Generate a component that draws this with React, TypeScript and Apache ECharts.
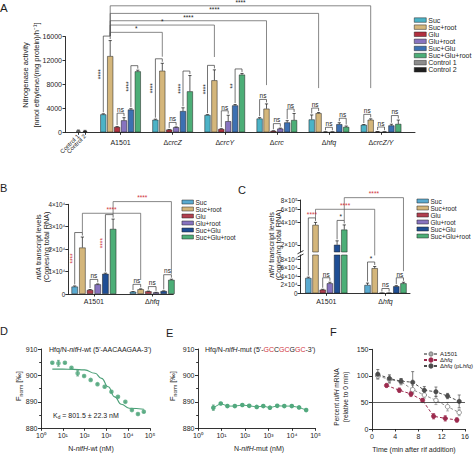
import React, { useEffect, useRef } from 'react';
import * as echarts from 'echarts';

const FONT = "'Liberation Sans', Arial, Helvetica, sans-serif";
const INK = '#1c1c1c';
const RED = '#d0343c';

// ---------------- shared ----------------
const TREATMENTS = ['Suc', 'Suc+root', 'Glu', 'Glu+root', 'Suc+Glu', 'Suc+Glu+root'];
const CONTROLS = ['Control 1', 'Control 2'];
const COLORS_A = ['#4cb3c7', '#d4b67b', '#b2303f', '#8773bf', '#3c70b2', '#4cae77'];
const COLORS_CTRL = ['#8d8d8d', '#1f1f1f'];
const COLORS_BC = ['#5aaad0', '#d4b67b', '#b13f4f', '#8773bf', '#1f4e94', '#4cae77'];

// ---------------- panel A: nitrogenase activity ----------------
const A_STRAINS = ['A1501', 'ΔcrcZ', 'ΔcrcY', 'Δcrc', 'Δhfq', 'ΔcrcZ/Y'];
const A_SUC = [3000, 2100, 2900, 2300, 2150, 1250];
const A_SUC_ROOT = [12750, 10300, 8700, 3950, 3200, 2100];
const A_GLU = [900, 450, 550, 230, 50, 100];
const A_GLU_ROOT = [2000, 850, 1850, 620, 50, 60];
const A_SUC_GLU = [3800, 3550, 4500, 1650, 1350, 1150];
const A_SUC_GLU_ROOT = [10200, 6850, 9650, 2050, 900, 1400];
const A_SUC_SD = [100, 100, 50, 150, 750, 50];
const A_SUC_ROOT_SD = [2600, 1250, 1750, 800, 100, 150];
const A_GLU_SD = [50, 30, 50, 30, 30, 30];
const A_GLU_ROOT_SD = [450, 50, 1000, 80, 30, 30];
const A_SUC_GLU_SD = [150, 550, 150, 300, 250, 200];
const A_SUC_GLU_ROOT_SD = [200, 2650, 200, 1100, 150, 650];
const A_CONTROL = [300, 250];
const A_CONTROL_SD = [80, 80];
const A_Y_TICKS = { min: 0, max: 16000, step: 4000 };
const A_PAIR_LABELS = [
  ['****', 'ns', '****'],
  ['****', 'ns', '****'],
  ['****', 'ns', '**'],
  ['ns', 'ns', 'ns'],
  ['ns', 'ns', 'ns'],
  ['ns', 'ns', 'ns'],
];
const A_CROSS_TARGET = [1, 2, 3, 4, 5];
const A_CROSS_LABELS = ['*', '*', '****', '****', '****'];
const A_CROSS_LEVEL = [16730, 17950, 18670, 19900, 21170];
const A_CROSS_END = [12650, 12600, 7900, 7400, 7400];

// ---------------- panel B: nifA transcripts ----------------
const B_STRAINS = ['A1501', 'Δhfq'];
const B_SUC = [3300, 1000];
const B_SUC_ROOT = [20700, 2100];
const B_GLU = [1800, 1200];
const B_GLU_ROOT = [4300, 700];
const B_SUC_GLU = [9000, 1300];
const B_SUC_GLU_ROOT = [29000, 6300];
const B_SUC_SD = [300, 100];
const B_SUC_ROOT_SD = [4700, 200];
const B_GLU_SD = [200, 100];
const B_GLU_ROOT_SD = [200, 50];
const B_SUC_GLU_SD = [300, 100];
const B_SUC_GLU_ROOT_SD = [4400, 300];
const B_Y_TICKS = { min: 0, max: 40000, step: 10000 };
const B_PAIR_LABELS = [['****', 'ns', '****'], ['ns', 'ns', 'ns']];
const B_CROSS_SERIES = [1, 5];
const B_CROSS_LABELS = ['****', '****'];
const B_CROSS_LEVEL = [36000, 41200];
const B_CROSS_END = [6250, 9000];

// ---------------- panel C: nifH transcripts (broken axis) ----------------
const C_STRAINS = ['A1501', 'Δhfq'];
const C_SUC = [36000, 19500];
const C_SUC_ROOT = [370000, 59000];
const C_GLU = [8500, 500];
const C_GLU_ROOT = [23500, 500];
const C_SUC_GLU = [200000, 16500];
const C_SUC_GLU_ROOT = [320000, 23500];
const C_SUC_SD = [2000, 4500];
const C_SUC_ROOT_SD = [30000, 4000];
const C_GLU_SD = [1000, 200];
const C_GLU_ROOT_SD = [2500, 200];
const C_SUC_GLU_SD = [26000, 1500];
const C_SUC_GLU_ROOT_SD = [50000, 2500];
const C_UPPER_MIN = 160000;
const C_UPPER_MAX = 800000;
const C_UPPER_TICKS = [200000, 400000, 600000, 800000];
const C_LOWER_MAX = 90000;
const C_LOWER_TICKS = [0, 20000, 40000, 60000, 80000];
const C_PAIR_LABELS = [['****', 'ns', '*'], ['*', 'ns', 'ns']];
const C_CROSS_SERIES = [1, 5];
const C_CROSS_LABELS = ['****', '****'];
const C_CROSS_LEVEL = [600000, 860000];
const C_CROSS_END = [89000, 52000];

// ---------------- panel D: wt binding ----------------
const D_CONC = [3.3, 6.3, 12.5, 25, 48, 95, 190, 390, 830, 1700, 3400, 7400, 14800, 28000, 52000];
const D_FNORM = [904.8, 904.6, 904.8, 902.9, 900.8, 899.8, 898.3, 896.7, 895.7, 893.8, 891.9, 890.0, 886.9, 885.4, 886.3];
const D_SD = [0.3, 1.1, 0.3, 0.3, 1.0, 0.3, 0.3, 0.3, 0.3, 0.3, 0.3, 0.3, 0.3, 0.3, 0.3];
const D_FIT_CONC = [3.3, 10, 30, 100, 300, 600, 1200, 2400, 4800, 11000, 52000];
const D_FIT = [902.4, 902.4, 902.3, 902.1, 900.8, 898.9, 895.7, 891.9, 889.1, 887.6, 887.2];
const DE_Y_TICKS = { min: 880, max: 910, step: 10 };

// ---------------- panel E: mut binding ----------------
const E_CONC = [4.5, 9.3, 17.8, 37, 77, 151, 316, 600, 1150, 2350, 4700, 9800, 20000, 40000];
const E_FNORM = [887.8, 889.4, 888.4, 888.4, 888.8, 888.5, 888.1, 888.4, 887.8, 888.5, 888.4, 888.4, 887.9, 886.9];
const E_SD = [1.0, 0.3, 0.3, 0.3, 0.3, 0.3, 0.3, 0.3, 0.3, 0.3, 0.3, 0.3, 0.3, 0.3];

// ---------------- panel F: mRNA decay ----------------
const F_TIME = [1, 3, 5, 7, 9, 11, 13, 15];
const F_A1501 = [100, 93, 89, 74, 64, 54, 42, 31];
const F_A1501_SD = [5, 7, 6, 8, 6, 8, 8, 6];
const F_HFQ_TIME = [2.5, 4.7, 6.7, 8.7, 10.6, 12.6, 14.6];
const F_HFQ = [82, 73, 66, 54, 24, 20, 17];
const F_HFQ_SD = [3, 4, 5, 3, 5, 5, 4];
const F_PLHFQ = [103, 95, 90, 88, 73, 70, 62, 52];
const F_PLHFQ_SD = [9, 7, 5, 20, 7, 9, 5, 12];
const F_SERIES = ['A1501', 'Δhfq', 'Δhfq (pLhfq)'];
const F_COLORS = ['#8f8f8f', '#9c2b4e', '#4d4d4d'];

// ---------------- helpers ----------------
const A_MEANS = [A_SUC, A_SUC_ROOT, A_GLU, A_GLU_ROOT, A_SUC_GLU, A_SUC_GLU_ROOT];
const A_SDS = [A_SUC_SD, A_SUC_ROOT_SD, A_GLU_SD, A_GLU_ROOT_SD, A_SUC_GLU_SD, A_SUC_GLU_ROOT_SD];
const B_MEANS = [B_SUC, B_SUC_ROOT, B_GLU, B_GLU_ROOT, B_SUC_GLU, B_SUC_GLU_ROOT];
const B_SDS = [B_SUC_SD, B_SUC_ROOT_SD, B_GLU_SD, B_GLU_ROOT_SD, B_SUC_GLU_SD, B_SUC_GLU_ROOT_SD];
const C_MEANS = [C_SUC, C_SUC_ROOT, C_GLU, C_GLU_ROOT, C_SUC_GLU, C_SUC_GLU_ROOT];
const C_SDS = [C_SUC_SD, C_SUC_ROOT_SD, C_GLU_SD, C_GLU_ROOT_SD, C_SUC_GLU_SD, C_SUC_GLU_ROOT_SD];

const A_BAR_W = 6, A_GAP = 0.15;
const B_BAR_W = 6.4, B_GAP = 0.2;
const C_BAR_W = 6.2, C_GAP = 0.16;

const SUP: Record<string, string> = { '0': '⁰', '1': '¹', '2': '²', '3': '³', '4': '⁴', '5': '⁵' };
const logLabel = (v: number) => '10' + SUP[String(Math.round(Math.log10(v)))];

const AXL = { color: INK, width: 0.9 };
const G = (left: number, top: number, width: number, height: number) => ({
  left, top, width, height, containLabel: false, outerBoundsMode: 'none',
});

const strainFmt = (v: string) => (v.startsWith('Δ') ? `{n|Δ}{i|${v.slice(1)}}` : `{n|${v}}`);
const labelRich = (fs: number) => ({
  n: { fontSize: fs, fontFamily: FONT, color: INK },
  i: { fontSize: fs, fontFamily: FONT, color: INK, fontStyle: 'italic' },
});

function frameX(gi: number, showLine = true) {
  return {
    gridIndex: gi, type: 'value', min: 0, max: 1,
    axisLine: { show: showLine, onZero: false, lineStyle: AXL },
    axisTick: { show: false }, axisLabel: { show: false }, splitLine: { show: false },
  };
}
function hiddenY(gi: number, min: number, max: number, type = 'value') {
  return { gridIndex: gi, type, min, max, show: false, logBase: 10 };
}
function catX(gi: number, data: string[], margin: number, extra: any = {}) {
  return {
    gridIndex: gi, type: 'category', data,
    axisLine: { show: false },
    axisTick: { show: true, alignWithLabel: true, length: 2.5, lineStyle: AXL },
    axisLabel: {
      interval: 0, margin, fontSize: 7, color: INK, fontFamily: FONT,
      formatter: strainFmt, rich: labelRich(extra.fontSize || 7), ...extra,
    },
    splitLine: { show: false },
  };
}
function valueY(gi: number, o: any) {
  return {
    gridIndex: gi, type: 'value',
    axisLine: { show: true, lineStyle: AXL },
    axisTick: { show: true, length: 3, lineStyle: AXL },
    splitLine: { show: false },
    ...o,
    axisLabel: {
      fontSize: 7, color: INK, fontFamily: FONT, margin: 3.5,
      formatter: (v: number) => String(v),
      ...(o.axisLabel || {}),
    },
  };
}

function barErrSeries(xi: number, yi: number, items: number[][], nBars: number, pitch: number, cap: number) {
  return {
    type: 'custom', xAxisIndex: xi, yAxisIndex: yi, silent: true, z: 5, clip: false,
    encode: { x: 0, y: [2, 3] }, data: items,
    renderItem: (_p: any, api: any) => {
      const g = api.value(0);
      const s = api.value(1);
      const a = api.coord([g, api.value(2)]);
      const b = api.coord([g, api.value(3)]);
      const x = a[0] + (s - (nBars - 1) / 2) * pitch;
      const st = { stroke: '#111', lineWidth: 0.7 };
      return {
        type: 'group',
        children: [
          { type: 'line', shape: { x1: x, y1: a[1], x2: x, y2: b[1] }, style: st },
          { type: 'line', shape: { x1: x - cap, y1: b[1], x2: x + cap, y2: b[1] }, style: st },
        ],
      };
    },
  };
}
function pointErrSeries(xi: number, yi: number, xs: number[], ys: number[], sds: number[], color: string, cap: number) {
  return {
    type: 'custom', xAxisIndex: xi, yAxisIndex: yi, silent: true, z: 3, clip: false,
    encode: { x: 0, y: [1] }, data: xs.map((x, i) => [x, ys[i], sds[i]]),
    renderItem: (_p: any, api: any) => {
      const x = api.value(0), y = api.value(1), e = api.value(2);
      const lo = api.coord([x, y - e]);
      const hi = api.coord([x, y + e]);
      const st = { stroke: color, lineWidth: 0.7 };
      return {
        type: 'group',
        children: [
          { type: 'line', shape: { x1: lo[0], y1: lo[1], x2: hi[0], y2: hi[1] }, style: st },
          { type: 'line', shape: { x1: hi[0] - cap, y1: hi[1], x2: hi[0] + cap, y2: hi[1] }, style: st },
          { type: 'line', shape: { x1: lo[0] - cap, y1: lo[1], x2: lo[0] + cap, y2: lo[1] }, style: st },
        ],
      };
    },
  };
}

function barErrItems(means: number[][], sds: number[][]) {
  const out: number[][] = [];
  means.forEach((arr, s) => arr.forEach((m, g) => out.push([g, s, m, m + sds[s][g]])));
  return out;
}

function buildOption() {
  const grid = [
    G(65.5, 36.7, 349.5, 95.6), // 0 A frame
    G(75, 36.7, 13.4, 95.6), // 1 A controls
    G(94.5, 36.7, 312.6, 95.6), // 2 A bars
    G(68.3, 204.3, 105, 89.7), // 3 B frame
    G(64.75, 204.3, 116.6, 89.7), // 4 B bars
    G(300.5, 200, 109.5, 52), // 5 C upper frame
    G(300.5, 255, 109.5, 38.3), // 6 C lower frame
    G(296.7, 200, 118.4, 52), // 7 C upper bars
    G(296.7, 255, 118.4, 38.3), // 8 C lower bars
    G(41, 349, 109, 79.3), // 9 D
    G(198, 349, 117.5, 79.3), // 10 E
    G(372, 349.3, 93, 79.7), // 11 F
  ];

  const logX = (gi: number) => ({
    gridIndex: gi, type: 'log', logBase: 10, min: 1, max: 100000,
    axisLine: { show: true, onZero: false, lineStyle: AXL },
    axisTick: { show: true, length: 2.5, lineStyle: AXL },
    axisLabel: { fontSize: 7, color: INK, fontFamily: FONT, margin: 4, formatter: logLabel },
    splitLine: { show: false }, minorSplitLine: { show: false },
  });
  const deY = (gi: number) =>
    valueY(gi, {
      min: DE_Y_TICKS.min, max: DE_Y_TICKS.max, interval: DE_Y_TICKS.step,
      minorTick: { show: true, splitNumber: 2, length: 1.8, lineStyle: AXL },
      axisTick: { show: true, length: 3, lineStyle: AXL },
    });
  const smallLab = { fontSize: 6.3, margin: 3 };

  const xAxis = [
    frameX(0),
    catX(1, CONTROLS, 3, { rotate: 45, fontSize: 6 }),
    catX(2, A_STRAINS, 7),
    frameX(3),
    catX(4, B_STRAINS, 4),
    frameX(5, false),
    frameX(6),
    { gridIndex: 7, type: 'category', data: C_STRAINS, show: false },
    catX(8, C_STRAINS, 4.5),
    logX(9),
    logX(10),
    {
      gridIndex: 11, type: 'value', min: 0, max: 16, interval: 4,
      axisLine: { show: true, onZero: false, lineStyle: AXL },
      axisTick: { show: true, length: 2.5, lineStyle: AXL },
      axisLabel: { fontSize: 7, color: INK, fontFamily: FONT, margin: 4 },
      splitLine: { show: false },
    },
  ];

  const yAxis = [
    valueY(0, { min: A_Y_TICKS.min, max: A_Y_TICKS.max, interval: A_Y_TICKS.step }),
    hiddenY(1, A_Y_TICKS.min, A_Y_TICKS.max),
    hiddenY(2, A_Y_TICKS.min, A_Y_TICKS.max),
    valueY(3, {
      min: B_Y_TICKS.min, max: B_Y_TICKS.max, interval: B_Y_TICKS.step,
      axisLabel: { ...smallLab, formatter: (v: number) => (v === 0 ? '0' : `${v / 10000}×10⁴`) },
    }),
    hiddenY(4, B_Y_TICKS.min, B_Y_TICKS.max),
    valueY(5, {
      type: 'log', logBase: 10, min: C_UPPER_MIN, max: C_UPPER_MAX,
      axisTick: { show: true, length: 3, lineStyle: AXL, customValues: C_UPPER_TICKS },
      axisLabel: { ...smallLab, customValues: C_UPPER_TICKS, formatter: (v: number) => `${Math.round(v / 100000)}×10⁵` },
    }),
    valueY(6, {
      min: 0, max: C_LOWER_MAX,
      axisTick: { show: true, length: 3, lineStyle: AXL, customValues: C_LOWER_TICKS },
      axisLabel: { ...smallLab, customValues: C_LOWER_TICKS, formatter: (v: number) => (v === 0 ? '0' : `${v / 10000}×10⁴`) },
    }),
    hiddenY(7, C_UPPER_MIN, C_UPPER_MAX, 'log'),
    hiddenY(8, 0, C_LOWER_MAX),
    deY(9),
    deY(10),
    valueY(11, { min: 0, max: 150, interval: 50 }),
  ];

  const barStyle = (c: string) => ({ color: c, borderColor: '#1a1a1a', borderWidth: 0.5 });

  const series: any[] = [];
  // A
  TREATMENTS.forEach((name, s) =>
    series.push({
      type: 'bar', name, xAxisIndex: 2, yAxisIndex: 2, data: A_MEANS[s],
      barWidth: A_BAR_W, barGap: `${A_GAP * 100}%`, itemStyle: barStyle(COLORS_A[s]), z: 2,
    })
  );
  CONTROLS.forEach((name, s) =>
    series.push({
      type: 'bar', name, xAxisIndex: 1, yAxisIndex: 1,
      data: CONTROLS.map((_c, j) => (j === s ? A_CONTROL[s] : '-')),
      barWidth: 4, barGap: '-100%', itemStyle: barStyle(COLORS_CTRL[s]), z: 2,
    })
  );
  series.push(barErrSeries(2, 2, barErrItems(A_MEANS, A_SDS), 6, A_BAR_W * (1 + A_GAP), 1.6));
  series.push(
    barErrSeries(1, 1, CONTROLS.map((_c, s) => [s, 0, A_CONTROL[s], A_CONTROL[s] + A_CONTROL_SD[s]]), 1, 0, 1.4)
  );
  // B
  TREATMENTS.forEach((name, s) =>
    series.push({
      type: 'bar', name, xAxisIndex: 4, yAxisIndex: 4, data: B_MEANS[s],
      barWidth: B_BAR_W, barGap: `${B_GAP * 100}%`, itemStyle: barStyle(COLORS_BC[s]), z: 2,
    })
  );
  series.push(barErrSeries(4, 4, barErrItems(B_MEANS, B_SDS), 6, B_BAR_W * (1 + B_GAP), 1.6));
  // C lower + upper
  TREATMENTS.forEach((name, s) => {
    series.push({
      type: 'bar', name, xAxisIndex: 8, yAxisIndex: 8, data: C_MEANS[s],
      barWidth: C_BAR_W, barGap: `${C_GAP * 100}%`, itemStyle: barStyle(COLORS_BC[s]), z: 2, clip: true,
    });
    series.push({
      type: 'bar', name, xAxisIndex: 7, yAxisIndex: 7,
      data: C_MEANS[s].map((v) => (v >= C_UPPER_MIN ? v : '-')),
      barWidth: C_BAR_W, barGap: `${C_GAP * 100}%`, itemStyle: barStyle(COLORS_BC[s]), z: 2, clip: true,
    });
  });
  const cItems = barErrItems(C_MEANS, C_SDS);
  series.push(barErrSeries(8, 8, cItems.filter((d) => d[2] < C_UPPER_MIN), 6, C_BAR_W * (1 + C_GAP), 1.6));
  series.push(barErrSeries(7, 7, cItems.filter((d) => d[2] >= C_UPPER_MIN), 6, C_BAR_W * (1 + C_GAP), 1.6));
  // D
  const GREEN = '#52a97e';
  series.push({
    type: 'line', xAxisIndex: 9, yAxisIndex: 9, data: D_FIT_CONC.map((x, i) => [x, D_FIT[i]]),
    smooth: 0.5, smoothMonotone: 'x', showSymbol: false, silent: true,
    lineStyle: { color: '#4b9f77', width: 1.1 }, z: 2,
  });
  series.push(pointErrSeries(9, 9, D_CONC, D_FNORM, D_SD, '#3f8f68', 1.4));
  series.push({
    type: 'scatter', xAxisIndex: 9, yAxisIndex: 9, data: D_CONC.map((x, i) => [x, D_FNORM[i]]),
    symbolSize: 4.6, itemStyle: { color: GREEN }, z: 4, silent: true,
  });
  // E
  series.push(pointErrSeries(10, 10, E_CONC, E_FNORM, E_SD, '#3f8f68', 1.4));
  series.push({
    type: 'line', xAxisIndex: 10, yAxisIndex: 10, data: E_CONC.map((x, i) => [x, E_FNORM[i]]),
    symbol: 'circle', symbolSize: 4.6, silent: true,
    lineStyle: { color: GREEN, width: 1 }, itemStyle: { color: GREEN }, z: 4,
  });
  // F
  const fData = [
    F_TIME.map((t, i) => [t, F_A1501[i]]),
    F_HFQ_TIME.map((t, i) => [t, F_HFQ[i]]),
    F_TIME.map((t, i) => [t, F_PLHFQ[i]]),
  ];
  const fErr = [
    [F_TIME, F_A1501, F_A1501_SD],
    [F_HFQ_TIME, F_HFQ, F_HFQ_SD],
    [F_TIME, F_PLHFQ, F_PLHFQ_SD],
  ];
  F_SERIES.forEach((name, k) => {
    series.push(pointErrSeries(11, 11, fErr[k][0], fErr[k][1], fErr[k][2], F_COLORS[k], 1.5));
    series.push({
      type: 'line', name, xAxisIndex: 11, yAxisIndex: 11, data: fData[k],
      symbol: 'circle', symbolSize: 4.5, silent: true, z: 4,
      lineStyle: { color: F_COLORS[k], width: 1, type: [3, 2] },
      itemStyle: k === 0
        ? { color: '#ffffff', borderColor: F_COLORS[k], borderWidth: 1 }
        : { color: F_COLORS[k], borderColor: F_COLORS[k], borderWidth: 0.5 },
      markLine: k === 0
        ? {
            silent: true, symbol: 'none', label: { show: false },
            lineStyle: { color: '#333', width: 0.8, type: 'solid' },
            data: [{ yAxis: 50 }],
          }
        : undefined,
    });
  });

  const legendBase = {
    orient: 'vertical', icon: 'rect', selectedMode: false, itemGap: 0,
    itemStyle: { borderColor: '#222', borderWidth: 0.5 },
  };
  const legend = [
    {
      ...legendBase, left: 409, top: 11.5, itemWidth: 12, itemHeight: 4.5,
      textStyle: { fontSize: 7, lineHeight: 7.1, color: INK, fontFamily: FONT, padding: [0, 0, 0, -3] },
      data: [
        ...TREATMENTS.map((name, i) => ({ name, itemStyle: { color: COLORS_A[i] } })),
        ...CONTROLS.map((name, i) => ({ name, itemStyle: { color: COLORS_CTRL[i] } })),
      ],
    },
    {
      ...legendBase, left: 176.7, top: 193.5, itemWidth: 11.5, itemHeight: 4,
      textStyle: { fontSize: 6.5, lineHeight: 4.95, color: INK, fontFamily: FONT, padding: [0, 0, 0, -3] },
      data: TREATMENTS.map((name, i) => ({ name, itemStyle: { color: COLORS_BC[i] } })),
    },
    {
      ...legendBase, left: 411.7, top: 192.5, itemWidth: 11.5, itemHeight: 4,
      textStyle: { fontSize: 6.5, lineHeight: 4.95, color: INK, fontFamily: FONT, padding: [0, 0, 0, -3] },
      data: TREATMENTS.map((name, i) => ({ name, itemStyle: { color: COLORS_BC[i] } })),
    },
    {
      orient: 'vertical', selectedMode: false, itemGap: 0, left: 418, top: 346,
      itemWidth: 14, itemHeight: 4,
      textStyle: { fontSize: 6, lineHeight: 5.2, color: INK, fontFamily: FONT, rich: labelRich(6), padding: [0, 0, 0, -3] },
      formatter: (n: string) =>
        n === 'A1501' ? '{n|A1501}' : n === 'Δhfq' ? '{n|Δ}{i|hfq}' : '{n|Δ}{i|hfq}{n| (pL}{i|hfq}{n|)}',
      data: F_SERIES,
    },
  ];

  return {
    animation: false,
    backgroundColor: '#ffffff',
    textStyle: { fontFamily: FONT },
    grid, xAxis, yAxis, series, legend,
  };
}

// ---------------- annotations (brackets) ----------------
function gRich(fs: number, lh: number) {
  return {
    t: { fontSize: fs, fontFamily: FONT, fill: INK, lineHeight: lh },
    i: { fontSize: fs, fontFamily: FONT, fill: INK, fontStyle: 'italic', lineHeight: lh },
    r: { fontSize: fs, fontFamily: FONT, fill: RED, lineHeight: lh },
    s: { fontSize: fs * 0.68, fontFamily: FONT, fill: INK, lineHeight: lh, verticalAlign: 'bottom' },
  };
}
function txt(x: number, y: number, text: string, o: any = {}) {
  const align = o.align || 'left';
  const va = o.va || 'middle';
  return {
    type: 'text', x, y, rotation: o.rotation || 0, silent: true, z: 20,
    style: {
      text, fill: o.fill || INK, fontSize: o.fontSize || 7, fontFamily: FONT,
      align, verticalAlign: va, textAlign: align, textVerticalAlign: va,
      rich: o.rich,
    },
  };
}

interface Cross { from: number; to: number; s: number; level: number; end: number; label: string }
interface BarPanel {
  pick: (v: number) => [number, number];
  pitch: number;
  means: number[][];
  sds: number[][];
  pairLabels: string[][];
  verticalStars: boolean;
  starColor: string;
  cross: Cross[];
}

function bracketElements(chart: any, p: BarPanel) {
  const els: any[] = [];
  const n = p.means.length;
  const off = (s: number) => (s - (n - 1) / 2) * p.pitch;
  const pt = (g: number, v: number) => {
    const [xi, yi] = p.pick(v);
    return chart.convertToPixel({ xAxisIndex: xi, yAxisIndex: yi }, [g, v]) as number[];
  };
  const ls = { stroke: '#3a3a3a', lineWidth: 0.7, fill: 'none' };
  const levels: number[][] = [];
  const groups = p.means[0].length;
  for (let g = 0; g < groups; g++) {
    levels[g] = [];
    for (let k = 0; k < 3; k++) {
      const a = 2 * k, b = 2 * k + 1;
      const pa = pt(g, p.means[a][g] + p.sds[a][g]);
      const pb = pt(g, p.means[b][g] + p.sds[b][g]);
      const xA = pa[0] + off(a), xB = pb[0] + off(b);
      const yA = pa[1] - 1.5, yB = pb[1] - 1.5;
      const lv = Math.min(yA, yB) - 3;
      levels[g][k] = lv;
      els.push({ type: 'polyline', silent: true, z: 15, shape: { points: [[xA, yA], [xA, lv], [xB, lv], [xB, yB]] }, style: ls });
      const lab = p.pairLabels[g][k];
      const col = lab === '****' ? p.starColor : INK;
      if (p.verticalStars && lab.includes('*')) {
        els.push(txt(xA - 2.5, (yA + lv) / 2, lab, { rotation: Math.PI / 2, align: 'center', va: 'middle', fill: col, fontSize: 6.5 }));
      } else {
        els.push(txt((xA + xB) / 2, lv - 0.2, lab, { align: 'center', va: 'bottom', fill: col, fontSize: 6.5 }));
      }
    }
  }
  p.cross.forEach((c) => {
    const k = Math.floor(c.s / 2);
    const x0 = pt(c.from, c.level)[0] + off(c.s);
    const y0 = levels[c.from][k];
    const yL = pt(c.from, c.level)[1];
    const x1 = pt(c.to, c.level)[0] + off(c.s);
    const y1 = pt(c.to, c.end)[1];
    els.push({ type: 'polyline', silent: true, z: 15, shape: { points: [[x0, y0], [x0, yL], [x1, yL], [x1, y1]] }, style: { ...ls, stroke: '#555' } });
    const col = c.label === '****' ? p.starColor : INK;
    els.push(txt((x0 + x1) / 2, yL - 0.2, c.label, { align: 'center', va: 'bottom', fill: col, fontSize: 6.5 }));
  });
  return els;
}

function staticElements() {
  const r75 = gRich(7.5, 11);
  return [
    txt(0, 1.5, 'A', { va: 'top', fontSize: 11.5 }),
    txt(0, 182.5, 'B', { va: 'top', fontSize: 11 }),
    txt(238, 184, 'C', { va: 'top', fontSize: 11 }),
    txt(0, 325.5, 'D', { va: 'top', fontSize: 11 }),
    txt(166, 327.5, 'E', { va: 'top', fontSize: 11 }),
    txt(330, 326, 'F', { va: 'top', fontSize: 11 }),
    // y titles
    txt(30.5, 75, '{t|Nitrogenase activity}\n{t|[nmol ethylene/(mg protein)/h⁻¹]}', { rotation: Math.PI / 2, align: 'center', rich: r75 }),
    txt(42.5, 247, '{i|nifA}{t| transcript levels}\n{t|(Copies/ng total RNA)}', { rotation: Math.PI / 2, align: 'center', rich: gRich(7.3, 7.9) }),
    txt(275, 245, '{i|nifH}{t| transcript levels}\n{t|(Copies/ng total RNA)}', { rotation: Math.PI / 2, align: 'center', rich: gRich(7.3, 7.6) }),
    txt(18.5, 386, '{t|F}{s|norm}{t| [‰]}', { rotation: Math.PI / 2, align: 'center', rich: gRich(7.5, 10) }),
    txt(172, 386, '{t|F}{s|norm}{t| [‰]}', { rotation: Math.PI / 2, align: 'center', rich: gRich(7.5, 10) }),
    txt(341, 397, '{t|Percent }{i|nifH}{t| mRNA}\n{t|(relative to 0 min)}', { rotation: Math.PI / 2, align: 'center', rich: gRich(6.6, 8.3) }),
    // x titles
    txt(91, 448.5, '{t|N-}{i|nifH}{t|-wt (nM)}', { align: 'center', rich: gRich(7, 9) }),
    txt(259, 448.5, '{t|N-}{i|nifH}{t|-mut (nM)}', { align: 'center', rich: gRich(7, 9) }),
    txt(414, 449, 'Time (min after rif addition)', { align: 'center', fontSize: 7 }),
    // inner titles
    txt(49, 349.5, "{t|Hfq/N-}{i|nifH}{t|-wt (5'-AACAAGAA-3')}", { rich: gRich(7, 9) }),
    txt(205, 349.5, "{t|Hfq/N-}{i|nifH}{t|-mut (5'-}{r|GC}{t|C}{r|GC}{t|G}{r|GC}{t|-3')}", { rich: gRich(7, 9) }),
    txt(53, 415, '{t|K}{s|d}{t| = 801.5 ± 22.3 nM}', { rich: gRich(7, 9) }),
    // axis break marks (panel C)
    { type: 'line', silent: true, z: 20, shape: { x1: 297.5, y1: 253.8, x2: 303.5, y2: 250.6 }, style: { stroke: INK, lineWidth: 0.9 } },
    { type: 'line', silent: true, z: 20, shape: { x1: 297.5, y1: 257.2, x2: 303.5, y2: 254 }, style: { stroke: INK, lineWidth: 0.9 } },
  ];
}

export default function App() {
  const ref = useRef<HTMLDivElement>(null);
  useEffect(() => {
    if (!ref.current) return;
    const chart = echarts.init(ref.current, undefined, { renderer: 'svg' });
    chart.setOption(buildOption() as any);

    const panelA: BarPanel = {
      pick: () => [2, 2], pitch: A_BAR_W * (1 + A_GAP), means: A_MEANS, sds: A_SDS,
      pairLabels: A_PAIR_LABELS, verticalStars: true, starColor: INK,
      cross: A_CROSS_TARGET.map((to, k) => ({ from: 0, to, s: 1, level: A_CROSS_LEVEL[k], end: A_CROSS_END[k], label: A_CROSS_LABELS[k] })),
    };
    const panelB: BarPanel = {
      pick: () => [4, 4], pitch: B_BAR_W * (1 + B_GAP), means: B_MEANS, sds: B_SDS,
      pairLabels: B_PAIR_LABELS, verticalStars: true, starColor: RED,
      cross: B_CROSS_SERIES.map((s, k) => ({ from: 0, to: 1, s, level: B_CROSS_LEVEL[k], end: B_CROSS_END[k], label: B_CROSS_LABELS[k] })),
    };
    const panelC: BarPanel = {
      pick: (v: number) => (v >= C_UPPER_MIN ? [7, 7] : [8, 8]), pitch: C_BAR_W * (1 + C_GAP), means: C_MEANS, sds: C_SDS,
      pairLabels: C_PAIR_LABELS, verticalStars: false, starColor: RED,
      cross: C_CROSS_SERIES.map((s, k) => ({ from: 0, to: 1, s, level: C_CROSS_LEVEL[k], end: C_CROSS_END[k], label: C_CROSS_LABELS[k] })),
    };
    let els: any[] = staticElements();
    try {
      els = els.concat(bracketElements(chart, panelA), bracketElements(chart, panelB), bracketElements(chart, panelC));
    } catch (e) {
      // keep static elements
    }
    chart.setOption({ graphic: { elements: els } } as any);
    return () => chart.dispose();
  }, []);
  return (
    <div
      ref={ref}
      style={{ position: 'fixed', left: 0, top: 0, width: 474, height: 455, background: '#fff' }}
    />
  );
}
